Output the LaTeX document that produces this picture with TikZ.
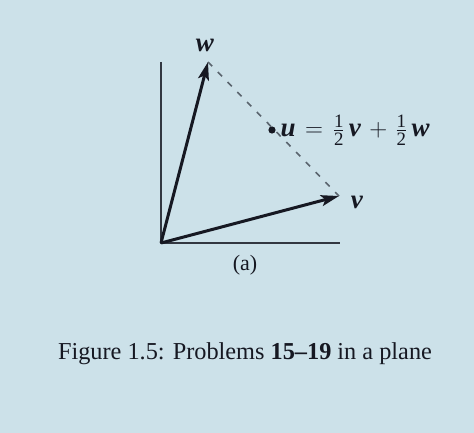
\documentclass[tikz,border=0pt]{standalone}
\usepackage{amsmath}
\usepackage{fontspec}
\setmainfont{Liberation Serif}
\usetikzlibrary{arrows.meta}
\definecolor{paper}{RGB}{204,225,233}
\definecolor{ink}{RGB}{22,24,34}
\definecolor{axisgray}{RGB}{50,55,65}
\definecolor{dashgray}{RGB}{90,100,110}
\newcommand{\bvec}[1]{\mbox{\textbf{\textit{#1}}}}
\newcommand{\half}{\frac{\text{\small 1}}{\text{\small 2}}}
\begin{document}
\begin{tikzpicture}[x=1pt,y=-1pt, ink,
    vec/.style={line width=3pt, -{Stealth[length=18pt,width=11pt,inset=4pt]}},
    lbl/.style={font=\fontsize{27}{31}\selectfont}]
    \fill [paper] (0,0) rectangle (474,433);
    \useasboundingbox (0,0) rectangle (474,433);
    % Draw axes
    \coordinate (o) at (161,243);
    \draw [axisgray, line width=2.3pt] (161,62) |- (340,243);
    % Vectors and the midpoint between them
    \coordinate (wtip) at (208,62);
    \coordinate (vtip) at (339,196);
    \draw [vec] (o) -- (wtip);
    \draw [vec] (o) -- (vtip);
    \draw [dashgray, line width=1.6pt, dash pattern=on 6pt off 8pt] (wtip) -- (vtip);
    \fill (272,130) circle (3.6pt) node (u) [lbl, right=5pt]
        {$\thickmuskip=7mu \medmuskip=6mu \bvec{u} = \frac{\text{1}}{\text{2}}\,\bvec{v} + \frac{\text{1}}{\text{2}}\,\bvec{w}$};
    \node [lbl] (wlabel) at (205,45) {$\bvec{w}$};
    \node [lbl] (vlabel) at (357,202) {$\bvec{v}$};
    \node [font=\fontsize{22}{26}\selectfont] (sub) at (245,265) {(a)};
    \node [font=\fontsize{24.3}{29}\selectfont] (caption) at (245,354) {Figure 1.5: Problems \textbf{15--19} in a plane};
\end{tikzpicture}
\end{document}
